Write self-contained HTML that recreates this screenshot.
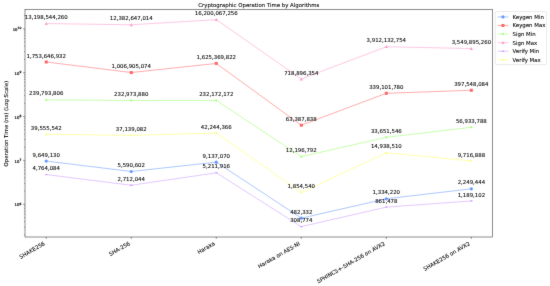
<!DOCTYPE html>
<html><head><meta charset="utf-8"><title>Cryptographic Operation Time by Algorithms</title>
<style>html,body{margin:0;padding:0;background:#fff}body{width:550px;height:286px;overflow:hidden}</style></head>
<body>
<svg width="550" height="286" viewBox="0 0 550 286" style="display:block;font-family:'DejaVu Sans','Liberation Sans',sans-serif" text-rendering="geometricPrecision"><style>text{stroke:#000;stroke-width:0.08px}</style>
<defs><filter id="soft" x="0" y="0" width="550" height="286" filterUnits="userSpaceOnUse" color-interpolation-filters="sRGB"><feConvolveMatrix order="3" kernelMatrix="0.01 0.065 0.01 0.065 0.7 0.065 0.01 0.065 0.01" edgeMode="duplicate" preserveAlpha="true"/></filter></defs>
<rect width="550" height="286" fill="#fff"/>
<g filter="url(#soft)">
<rect width="550" height="286" fill="#fff"/>
<polyline points="46.25,161.09 131.27,171.49 216.29,162.13 301.31,218.15 386.33,198.78 471.35,188.83" fill="none" stroke="#6699ff" stroke-width="0.55" stroke-linejoin="round"/>
<circle cx="46.25" cy="161.09" r="1.6" fill="#6699ff"/>
<circle cx="131.27" cy="171.49" r="1.6" fill="#6699ff"/>
<circle cx="216.29" cy="162.13" r="1.6" fill="#6699ff"/>
<circle cx="301.31" cy="218.15" r="1.6" fill="#6699ff"/>
<circle cx="386.33" cy="198.78" r="1.6" fill="#6699ff"/>
<circle cx="471.35" cy="188.83" r="1.6" fill="#6699ff"/>
<polyline points="46.25,62.00 131.27,72.56 216.29,63.44 301.31,125.24 386.33,93.29 471.35,90.27" fill="none" stroke="#ff6666" stroke-width="0.55" stroke-linejoin="round"/>
<rect x="44.75" y="60.50" width="3" height="3" fill="#ff6666"/>
<rect x="129.77" y="71.06" width="3" height="3" fill="#ff6666"/>
<rect x="214.79" y="61.94" width="3" height="3" fill="#ff6666"/>
<rect x="299.81" y="123.74" width="3" height="3" fill="#ff6666"/>
<rect x="384.83" y="91.79" width="3" height="3" fill="#ff6666"/>
<rect x="469.85" y="88.77" width="3" height="3" fill="#ff6666"/>
<polyline points="46.25,99.89 131.27,100.44 216.29,100.51 301.31,156.63 386.33,137.30 471.35,127.28" fill="none" stroke="#99ff66" stroke-width="0.55" stroke-linejoin="round"/>
<circle cx="46.25" cy="99.89" r="1.0" fill="#99ff66"/>
<circle cx="131.27" cy="100.44" r="1.0" fill="#99ff66"/>
<circle cx="216.29" cy="100.51" r="1.0" fill="#99ff66"/>
<circle cx="301.31" cy="156.63" r="1.0" fill="#99ff66"/>
<circle cx="386.33" cy="137.30" r="1.0" fill="#99ff66"/>
<circle cx="471.35" cy="127.28" r="1.0" fill="#99ff66"/>
<polyline points="46.25,23.55 131.27,24.77 216.29,19.65 301.31,78.98 386.33,46.71 471.35,48.57" fill="none" stroke="#ff99cc" stroke-width="0.55" stroke-linejoin="round"/>
<path d="M46.25 21.95L47.85 24.95L44.65 24.95Z" fill="#ff99cc"/>
<path d="M131.27 23.17L132.87 26.17L129.67 26.17Z" fill="#ff99cc"/>
<path d="M216.29 18.05L217.89 21.05L214.69 21.05Z" fill="#ff99cc"/>
<path d="M301.31 77.38L302.91 80.38L299.71 80.38Z" fill="#ff99cc"/>
<path d="M386.33 45.11L387.93 48.11L384.73 48.11Z" fill="#ff99cc"/>
<path d="M471.35 46.97L472.95 49.97L469.75 49.97Z" fill="#ff99cc"/>
<polyline points="46.25,174.53 131.27,185.26 216.29,172.82 301.31,226.65 386.33,207.11 471.35,200.97" fill="none" stroke="#cc99ff" stroke-width="0.55" stroke-linejoin="round"/>
<ellipse cx="46.25" cy="174.53" rx="1.5" ry="0.65" fill="#cc99ff"/>
<ellipse cx="131.27" cy="185.26" rx="1.5" ry="0.65" fill="#cc99ff"/>
<ellipse cx="216.29" cy="172.82" rx="1.5" ry="0.65" fill="#cc99ff"/>
<ellipse cx="301.31" cy="226.65" rx="1.5" ry="0.65" fill="#cc99ff"/>
<ellipse cx="386.33" cy="207.11" rx="1.5" ry="0.65" fill="#cc99ff"/>
<ellipse cx="471.35" cy="200.97" rx="1.5" ry="0.65" fill="#cc99ff"/>
<polyline points="46.25,134.22 131.27,135.42 216.29,132.97 301.31,192.50 386.33,152.77 471.35,160.96" fill="none" stroke="#ffff66" stroke-width="0.55" stroke-linejoin="round"/>
<circle cx="46.25" cy="134.22" r="0.9" fill="#ffff66"/>
<circle cx="131.27" cy="135.42" r="0.9" fill="#ffff66"/>
<circle cx="216.29" cy="132.97" r="0.9" fill="#ffff66"/>
<circle cx="301.31" cy="192.50" r="0.9" fill="#ffff66"/>
<circle cx="386.33" cy="152.77" r="0.9" fill="#ffff66"/>
<circle cx="471.35" cy="160.96" r="0.9" fill="#ffff66"/>
<rect x="25.0" y="9.3" width="467.6" height="227.7" fill="none" stroke="#000" stroke-width="0.45"/>
<path d="M25.0 234.92h-1.05" stroke="#000" stroke-width="0.32"/>
<path d="M25.0 227.20h-1.05" stroke="#000" stroke-width="0.32"/>
<path d="M25.0 221.72h-1.05" stroke="#000" stroke-width="0.32"/>
<path d="M25.0 217.47h-1.05" stroke="#000" stroke-width="0.32"/>
<path d="M25.0 214.00h-1.05" stroke="#000" stroke-width="0.32"/>
<path d="M25.0 211.06h-1.05" stroke="#000" stroke-width="0.32"/>
<path d="M25.0 208.52h-1.05" stroke="#000" stroke-width="0.32"/>
<path d="M25.0 206.27h-1.05" stroke="#000" stroke-width="0.32"/>
<path d="M25.0 204.27h-1.85" stroke="#000" stroke-width="0.42"/>
<text x="21.30" y="206.37" font-size="3.75" text-anchor="end" style="stroke-width:0.2px">10<tspan dy="-1.5" font-size="3">6</tspan></text>
<path d="M25.0 191.06h-1.05" stroke="#000" stroke-width="0.32"/>
<path d="M25.0 183.34h-1.05" stroke="#000" stroke-width="0.32"/>
<path d="M25.0 177.86h-1.05" stroke="#000" stroke-width="0.32"/>
<path d="M25.0 173.61h-1.05" stroke="#000" stroke-width="0.32"/>
<path d="M25.0 170.14h-1.05" stroke="#000" stroke-width="0.32"/>
<path d="M25.0 167.20h-1.05" stroke="#000" stroke-width="0.32"/>
<path d="M25.0 164.66h-1.05" stroke="#000" stroke-width="0.32"/>
<path d="M25.0 162.42h-1.05" stroke="#000" stroke-width="0.32"/>
<path d="M25.0 160.41h-1.85" stroke="#000" stroke-width="0.42"/>
<text x="21.30" y="162.51" font-size="3.75" text-anchor="end" style="stroke-width:0.2px">10<tspan dy="-1.5" font-size="3">7</tspan></text>
<path d="M25.0 147.21h-1.05" stroke="#000" stroke-width="0.32"/>
<path d="M25.0 139.48h-1.05" stroke="#000" stroke-width="0.32"/>
<path d="M25.0 134.01h-1.05" stroke="#000" stroke-width="0.32"/>
<path d="M25.0 129.76h-1.05" stroke="#000" stroke-width="0.32"/>
<path d="M25.0 126.28h-1.05" stroke="#000" stroke-width="0.32"/>
<path d="M25.0 123.35h-1.05" stroke="#000" stroke-width="0.32"/>
<path d="M25.0 120.80h-1.05" stroke="#000" stroke-width="0.32"/>
<path d="M25.0 118.56h-1.05" stroke="#000" stroke-width="0.32"/>
<path d="M25.0 116.55h-1.85" stroke="#000" stroke-width="0.42"/>
<text x="21.30" y="118.65" font-size="3.75" text-anchor="end" style="stroke-width:0.2px">10<tspan dy="-1.5" font-size="3">8</tspan></text>
<path d="M25.0 103.35h-1.05" stroke="#000" stroke-width="0.32"/>
<path d="M25.0 95.63h-1.05" stroke="#000" stroke-width="0.32"/>
<path d="M25.0 90.15h-1.05" stroke="#000" stroke-width="0.32"/>
<path d="M25.0 85.90h-1.05" stroke="#000" stroke-width="0.32"/>
<path d="M25.0 82.43h-1.05" stroke="#000" stroke-width="0.32"/>
<path d="M25.0 79.49h-1.05" stroke="#000" stroke-width="0.32"/>
<path d="M25.0 76.95h-1.05" stroke="#000" stroke-width="0.32"/>
<path d="M25.0 74.70h-1.05" stroke="#000" stroke-width="0.32"/>
<path d="M25.0 72.70h-1.85" stroke="#000" stroke-width="0.42"/>
<text x="21.30" y="74.80" font-size="3.75" text-anchor="end" style="stroke-width:0.2px">10<tspan dy="-1.5" font-size="3">9</tspan></text>
<path d="M25.0 59.49h-1.05" stroke="#000" stroke-width="0.32"/>
<path d="M25.0 51.77h-1.05" stroke="#000" stroke-width="0.32"/>
<path d="M25.0 46.29h-1.05" stroke="#000" stroke-width="0.32"/>
<path d="M25.0 42.04h-1.05" stroke="#000" stroke-width="0.32"/>
<path d="M25.0 38.57h-1.05" stroke="#000" stroke-width="0.32"/>
<path d="M25.0 35.63h-1.05" stroke="#000" stroke-width="0.32"/>
<path d="M25.0 33.09h-1.05" stroke="#000" stroke-width="0.32"/>
<path d="M25.0 30.85h-1.05" stroke="#000" stroke-width="0.32"/>
<path d="M25.0 28.84h-1.85" stroke="#000" stroke-width="0.42"/>
<text x="21.30" y="30.94" font-size="3.75" text-anchor="end" style="stroke-width:0.2px">10<tspan dy="-1.5" font-size="3">10</tspan></text>
<path d="M25.0 15.64h-1.05" stroke="#000" stroke-width="0.32"/>
<path d="M46.25 237.0v1.85" stroke="#000" stroke-width="0.42"/>
<text transform="translate(44.15 242.60) rotate(-30)" font-size="5.4" text-anchor="end" dominant-baseline="auto" dy="2.4">SHAKE256</text>
<path d="M131.27 237.0v1.85" stroke="#000" stroke-width="0.42"/>
<text transform="translate(129.17 242.60) rotate(-30)" font-size="5.4" text-anchor="end" dominant-baseline="auto" dy="2.4">SHA-256</text>
<path d="M216.29 237.0v1.85" stroke="#000" stroke-width="0.42"/>
<text transform="translate(214.19 242.60) rotate(-30)" font-size="5.4" text-anchor="end" dominant-baseline="auto" dy="2.4">Haraka</text>
<path d="M301.31 237.0v1.85" stroke="#000" stroke-width="0.42"/>
<text transform="translate(299.21 242.60) rotate(-30)" font-size="5.4" text-anchor="end" dominant-baseline="auto" dy="2.4">Haraka on AES-NI</text>
<path d="M386.33 237.0v1.85" stroke="#000" stroke-width="0.42"/>
<text transform="translate(384.23 242.60) rotate(-30)" font-size="5.4" text-anchor="end" dominant-baseline="auto" dy="2.4">SPHINCS+-SHA-256 on AVX2</text>
<path d="M471.35 237.0v1.85" stroke="#000" stroke-width="0.42"/>
<text transform="translate(469.25 242.60) rotate(-30)" font-size="5.4" text-anchor="end" dominant-baseline="auto" dy="2.4">SHAKE256 on AVX2</text>
<text x="46.25" y="156.69" font-size="5.4" text-anchor="middle">9,649,130</text>
<text x="131.27" y="167.09" font-size="5.4" text-anchor="middle">5,590,602</text>
<text x="216.29" y="157.73" font-size="5.4" text-anchor="middle">9,137,070</text>
<text x="301.31" y="213.75" font-size="5.4" text-anchor="middle">482,332</text>
<text x="386.33" y="194.38" font-size="5.4" text-anchor="middle">1,334,220</text>
<text x="471.35" y="184.43" font-size="5.4" text-anchor="middle">2,249,444</text>
<text x="46.25" y="57.60" font-size="5.4" text-anchor="middle">1,753,646,932</text>
<text x="131.27" y="68.16" font-size="5.4" text-anchor="middle">1,006,905,074</text>
<text x="216.29" y="59.04" font-size="5.4" text-anchor="middle">1,625,369,822</text>
<text x="301.31" y="120.84" font-size="5.4" text-anchor="middle">63,387,838</text>
<text x="386.33" y="88.89" font-size="5.4" text-anchor="middle">339,101,780</text>
<text x="471.35" y="85.87" font-size="5.4" text-anchor="middle">397,548,084</text>
<text x="46.25" y="95.49" font-size="5.4" text-anchor="middle">239,793,806</text>
<text x="131.27" y="96.04" font-size="5.4" text-anchor="middle">232,973,880</text>
<text x="216.29" y="96.11" font-size="5.4" text-anchor="middle">232,172,172</text>
<text x="301.31" y="152.23" font-size="5.4" text-anchor="middle">12,196,792</text>
<text x="386.33" y="132.90" font-size="5.4" text-anchor="middle">33,651,546</text>
<text x="471.35" y="122.88" font-size="5.4" text-anchor="middle">56,933,788</text>
<text x="46.25" y="19.15" font-size="5.4" text-anchor="middle">13,198,544,260</text>
<text x="131.27" y="20.37" font-size="5.4" text-anchor="middle">12,382,647,014</text>
<text x="216.29" y="15.25" font-size="5.4" text-anchor="middle">16,200,067,256</text>
<text x="301.31" y="74.58" font-size="5.4" text-anchor="middle">718,896,354</text>
<text x="386.33" y="42.31" font-size="5.4" text-anchor="middle">3,912,132,754</text>
<text x="471.35" y="44.17" font-size="5.4" text-anchor="middle">3,549,895,260</text>
<text x="46.25" y="170.13" font-size="5.4" text-anchor="middle">4,764,084</text>
<text x="131.27" y="180.86" font-size="5.4" text-anchor="middle">2,712,044</text>
<text x="216.29" y="168.42" font-size="5.4" text-anchor="middle">5,211,916</text>
<text x="301.31" y="222.25" font-size="5.4" text-anchor="middle">308,774</text>
<text x="386.33" y="202.71" font-size="5.4" text-anchor="middle">861,478</text>
<text x="471.35" y="196.57" font-size="5.4" text-anchor="middle">1,189,102</text>
<text x="46.25" y="129.82" font-size="5.4" text-anchor="middle">39,555,542</text>
<text x="131.27" y="131.02" font-size="5.4" text-anchor="middle">37,139,082</text>
<text x="216.29" y="128.57" font-size="5.4" text-anchor="middle">42,244,366</text>
<text x="301.31" y="188.10" font-size="5.4" text-anchor="middle">1,854,540</text>
<text x="386.33" y="148.37" font-size="5.4" text-anchor="middle">14,938,510</text>
<text x="471.35" y="156.56" font-size="5.4" text-anchor="middle">9,716,888</text>
<text x="258.80" y="6.7" font-size="5.4" text-anchor="middle">Cryptographic Operation Time by Algorithms</text>
<text transform="translate(7.7 123.65) rotate(-90)" font-size="5.4" text-anchor="middle">Operation Time (ns) (Log Scale)</text>
<rect x="495.2" y="11.6" width="51.400000000000034" height="52.9" rx="1" fill="#fff" fill-opacity="0.8" stroke="#ccc" stroke-width="0.42"/>
<path d="M497.5 16.90h10.9" stroke="#6699ff" stroke-width="0.55"/>
<circle cx="502.95" cy="16.90" r="1.6" fill="#6699ff"/>
<text x="512.6" y="18.80" font-size="5.4">Keygen Min</text>
<path d="M497.5 25.47h10.9" stroke="#ff6666" stroke-width="0.55"/>
<rect x="501.45" y="23.97" width="3" height="3" fill="#ff6666"/>
<text x="512.6" y="27.37" font-size="5.4">Keygen Max</text>
<path d="M497.5 34.04h10.9" stroke="#99ff66" stroke-width="0.55"/>
<circle cx="502.95" cy="34.04" r="1.0" fill="#99ff66"/>
<text x="512.6" y="35.94" font-size="5.4">Sign Min</text>
<path d="M497.5 42.61h10.9" stroke="#ff99cc" stroke-width="0.55"/>
<path d="M502.95 41.01L504.55 44.01L501.35 44.01Z" fill="#ff99cc"/>
<text x="512.6" y="44.51" font-size="5.4">Sign Max</text>
<path d="M497.5 51.18h10.9" stroke="#cc99ff" stroke-width="0.55"/>
<ellipse cx="502.95" cy="51.18" rx="1.5" ry="0.65" fill="#cc99ff"/>
<text x="512.6" y="53.08" font-size="5.4">Verify Min</text>
<path d="M497.5 59.75h10.9" stroke="#ffff66" stroke-width="0.55"/>
<circle cx="502.95" cy="59.75" r="0.9" fill="#ffff66"/>
<text x="512.6" y="61.65" font-size="5.4">Verify Max</text>
</g></svg>
</body></html>
